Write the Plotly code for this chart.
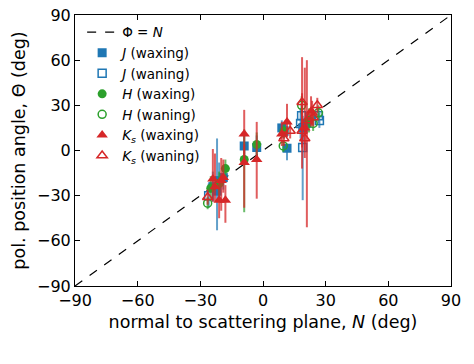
import plotly.graph_objects as go

# ---- data: N (deg), Theta (deg), error up, error down ----
J_wax_N = [-24, -22, -21, -19, -9, -3, 9, 11.5, 19, 21]
J_wax_T = [-24, -27, -20, -18, 3, 2, 15, 1.5, 15, 18]
J_wax_Eu = [10, 35, 12, 8, 8, 8, 5, 3, 8, 6]
J_wax_Ed = [10, 26, 12, 8, 8, 8, 5, 8, 8, 6]

J_wan_N = [-26, 10, 18.5, 18, 19, 26.5, 27]
J_wan_T = [-30, 13, 23, 18, 2, 23, 20]
J_wan_Eu = [8, 5, 8, 10, 15, 5, 5]
J_wan_Ed = [8, 5, 8, 10, 35, 5, 5]

H_wax_N = [-25, -21, -18, -9, -3, 10, 22]
H_wax_T = [-25, -22, -12, -6, 4, 13, 20]
H_wax_Eu = [8, 8, 6, 20, 8, 5, 8]
H_wax_Ed = [8, 8, 6, 35, 8, 5, 8]

H_wan_N = [-26.5, 9.7, 18.5, 26.5, 24]
H_wan_T = [-35, 3, 30, 25, 18]
H_wan_Eu = [4, 4, 6, 5, 5]
H_wan_Ed = [4, 4, 6, 5, 5]

K_wax_N = [-24, -23, -20, -19, -21, -18, -9, -9, -3, 11.5, 9, 23, 20]
K_wax_T = [-19, -24, -20, -18, -33, -33, 11, -8, -6, 19, 11, 26, 15]
K_wax_Eu = [20, 22, 15, 12, 12, 10, 16, 12, 25, 12, 8, 10, 40]
K_wax_Ed = [15, 10, 20, 10, 12, 15, 16, 30, 26, 10, 8, 10, 20]

K_wan_N = [-26.5, 13, 10, 18.7, 18.7, 21, 23.5, 26, 24, 20]
K_wan_T = [-31, 13, 8, 32, 13, 20, 25, 30, 22, 8]
K_wan_Eu = [5, 5, 5, 30, 25, 40, 8, 5, 6, 8]
K_wan_Ed = [5, 5, 5, 30, 25, 71, 8, 5, 6, 8]

ticks = [-90, -60, -30, 0, 30, 60, 90]

blue, green, red = "#1f77b4", "#2ca02c", "#d62728"
blue_a, green_a, red_a = "rgba(31,119,180,0.7)", "rgba(44,160,44,0.7)", "rgba(214,39,40,0.75)"

fig = go.Figure()
fig.add_trace(go.Scatter(x=[-90, 90], y=[-90, 90], mode="lines",
                         line=dict(color="black", width=1.2, dash="dash"),
                         name="Φ = <i>N</i>"))

series = [
    (J_wax_N, J_wax_T, J_wax_Eu, J_wax_Ed, "<i>J</i> (waxing)", "square", blue, blue_a, True, 9),
    (J_wan_N, J_wan_T, J_wan_Eu, J_wan_Ed, "<i>J</i> (waning)", "square-open", blue, blue_a, False, 8),
    (H_wax_N, H_wax_T, H_wax_Eu, H_wax_Ed, "<i>H</i> (waxing)", "circle", green, green_a, True, 9),
    (H_wan_N, H_wan_T, H_wan_Eu, H_wan_Ed, "<i>H</i> (waning)", "circle-open", green, green_a, False, 8),
    (K_wax_N, K_wax_T, K_wax_Eu, K_wax_Ed, "<i>K<sub>s</sub></i> (waxing)", "triangle-up", red, red_a, True, 10),
    (K_wan_N, K_wan_T, K_wan_Eu, K_wan_Ed, "<i>K<sub>s</sub></i> (waning)", "triangle-up-open", red, red_a, False, 9),
]
for xs, ys, eu, ed, name, sym, col, cola, filled, sz in series:
    fig.add_trace(go.Scatter(
        x=xs, y=ys, mode="markers", name=name,
        error_y=dict(type="data", symmetric=False, array=eu, arrayminus=ed, visible=True,
                     color=cola, thickness=2, width=0),
        marker=dict(symbol=sym, size=sz, color=col,
                    line=dict(color=col, width=1.5 if not filled else 0)),
    ))

axis_common = dict(
    range=[-90, 90], tickvals=ticks, ticktext=[str(t).replace("-", "−") for t in ticks],
    ticks="inside", ticklen=5, tickcolor="black", showline=True, linecolor="black",
    linewidth=1, mirror="ticks", showgrid=False, zeroline=False, automargin=False,
    tickfont=dict(size=16, color="black"),
)
fig.update_xaxes(**axis_common, title=dict(text="normal to scattering plane, <i>N</i> (deg)",
                                           font=dict(size=17.5, color="black"), standoff=6))
fig.update_yaxes(**axis_common, title=dict(text="pol. position angle, Θ (deg)",
                                           font=dict(size=17.5, color="black"), standoff=6))

fig.update_layout(
    width=474, height=364,
    margin=dict(l=75, r=23, t=15, b=78),
    plot_bgcolor="white", paper_bgcolor="white",
    font=dict(family="DejaVu Sans", color="black"),
    showlegend=True,
    legend=dict(x=0.019, y=0.993, xanchor="left", yanchor="top",
                bgcolor="rgba(0,0,0,0)", font=dict(size=13.5), tracegroupgap=0,
                itemwidth=30),
)
fig.write_html("out.html", config={"displayModeBar": False},
               post_script="document.body.style.margin='0';")
